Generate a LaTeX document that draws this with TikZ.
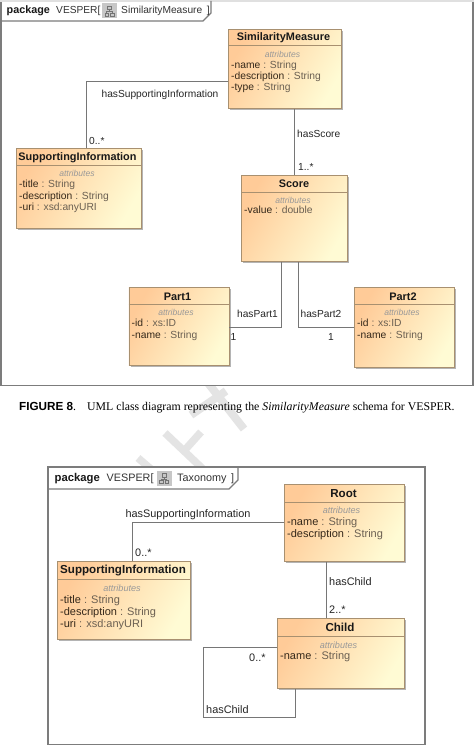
\documentclass[tikz,border=0pt]{standalone}
\usepackage{fontspec}
\setmainfont{Liberation Sans}
\newfontfamily\timesf{Liberation Serif}
\usetikzlibrary{shadows,calc}
\definecolor{fr}{HTML}{7C7C7C}
\definecolor{ln}{HTML}{767676}
\definecolor{hd}{HTML}{A89070}
\definecolor{org}{HTML}{FFCB98}
\definecolor{yel}{HTML}{FFFBD4}
\definecolor{nm}{HTML}{35281A}
\definecolor{ty}{HTML}{6B6052}
\definecolor{wm}{HTML}{E4E4E4}
\newcommand{\at}[2]{{\color{nm}#1} {\color{ty}: #2}}
\tikzset{
 classbox/.style={draw=hd,line width=.9pt,left color=org,right color=yel,shading angle=60,anchor=north west,inner sep=0pt,
   general shadow={shadow xshift=2pt,shadow yshift=-2pt,fill=black!45,opacity=.65}},
 ctitle/.style={font=\fontsize{10.9}{12}\selectfont\bfseries,text=black!90,inner sep=0pt},
 ctitleL/.style={font=\fontsize{11.6}{12}\selectfont\bfseries,text=black!90,inner sep=0pt},
 cattr/.style={font=\fontsize{8.6}{9}\selectfont\itshape,text=black!40,inner sep=0pt},
 cattrL/.style={font=\fontsize{9.1}{10}\selectfont\itshape,text=black!40,inner sep=0pt},
 cbody/.style={font=\fontsize{10.3}{11.4}\selectfont,align=left,anchor=north west,inner sep=0pt},
 cbodyL/.style={font=\fontsize{11}{12}\selectfont,align=left,anchor=north west,inner sep=0pt},
 lab/.style={font=\fontsize{10.2}{11}\selectfont,text=black!85,inner sep=0pt},
 labL/.style={font=\fontsize{10.9}{12}\selectfont,text=black!85,inner sep=0pt},
 conn/.style={draw=ln,line width=1pt},
 frame/.style={draw=fr,line width=1.1pt},
 head/.style={draw=hd,line width=.8pt},
 tabt/.style={font=\fontsize{10.2}{11}\selectfont,text=black!80,inner sep=0pt,anchor=base west},
 tabb/.style={font=\fontsize{10.8}{11}\selectfont\bfseries,text=black!90,inner sep=0pt,anchor=base west},
 tabtL/.style={font=\fontsize{10.8}{11}\selectfont,text=black!80,inner sep=0pt,anchor=base west},
 tabbL/.style={font=\fontsize{11.3}{12}\selectfont\bfseries,text=black!90,inner sep=0pt,anchor=base west},
}
\begin{document}
\begin{tikzpicture}[x=1pt,y=-1pt]
\useasboundingbox (0,0) rectangle (474,746);
\fill[white] (0,0) rectangle (474,746);
% watermark fragments
\begin{scope}
\clip (0,386.5) rectangle (474,466);
\draw[wm,line width=8pt] (208,383) -- (244,429);
\draw[wm,line width=8pt] (226,391) -- (191,415);
\draw[wm,line width=7.5pt] (165,433) -- (204,470);
\draw[wm,line width=7.5pt] (201,432) -- (184,451);
\draw[wm,line width=7.5pt] (138,458) -- (152,470);
\end{scope}
% top frame
\draw[frame] (1,-2) -- (1,385.5) -- (473,385.5) -- (473,-2);
\draw[frame,draw=black!12] (0,1) -- (474,1);
\draw[frame] (1,21) -- (203,21) -- (211,13) -- (211,1);
\node[tabb] (p1) at (6.5,13.5) {package};
\node[tabt] (p1b) at (56,13.5) {VESPER[};
\fill[black!22] (102,3.5) rectangle (117,18.5);
\draw[black!55,line width=.5pt] (107.5,6) rectangle (111.5,9.5) (105,13) rectangle (108.5,16) (110.5,13) rectangle (114,16) (109.5,9.5) -- (109.5,11.5) (106.7,13) -- (106.7,11.5) -- (112.2,11.5) -- (112.2,13);
\node[tabt] (p1c) at (121,13.5) {SimilarityMeasure\, ]};
% classes
\node[classbox,minimum width=113pt,minimum height=79pt] (sm) at (228,29) {};
\draw[head] (sm.west |- 0,45.5) -- (sm.east |- 0,45.5);
\node[ctitle] (smt) at (283.5,38) {SimilarityMeasure};
\node[cattr] (sma) at (282.5,54) {attributes};
\node[cbody] (smb) at (231,60.5) {\at{-name}{String}\\\at{-description}{String}\\\at{-type}{String}};

\node[classbox,minimum width=125pt,minimum height=80pt] (si) at (16,148) {};
\draw[head] (si.west |- 0,165) -- (si.east |- 0,165);
\node[ctitle] (sit) at (77.5,157.5) {SupportingInformation};
\node[cattr] (sia) at (77,173.5) {attributes};
\node[cbody] (sib) at (19,180) {\at{-title}{String}\\\at{-description}{String}\\\at{-uri}{xsd:anyURI}};

\node[classbox,minimum width=106pt,minimum height=86pt] (sc) at (241,175) {};
\draw[head] (sc.west |- 0,192) -- (sc.east |- 0,192);
\node[ctitle] (sct) at (294,184) {Score};
\node[cattr] (sca) at (293,200) {attributes};
\node[cbody] (scb) at (244,206) {\at{-value}{double}};

\node[classbox,minimum width=100pt,minimum height=78pt] (pa) at (128.5,287) {};
\draw[head] (pa.west |- 0,304) -- (pa.east |- 0,304);
\node[ctitle] (pat) at (177.5,296.5) {Part1};
\node[cattr] (paa) at (176,312.5) {attributes};
\node[cbody] (pab) at (131.5,319) {\at{-id}{xs:ID}\\\at{-name}{String}};

\node[classbox,minimum width=100pt,minimum height=80pt] (pb) at (354,287) {};
\draw[head] (pb.west |- 0,304) -- (pb.east |- 0,304);
\node[ctitle] (pbt) at (403,296.5) {Part2};
\node[cattr] (pba) at (402,312.5) {attributes};
\node[cbody] (pbb) at (357,319) {\at{-id}{xs:ID}\\\at{-name}{String}};
% connectors top
\coordinate (b1) at (86,82);
\draw[conn] (b1 -| sm.west) -- (b1) -- (b1 |- si.north);
\coordinate (b2) at (294,140);
\draw[conn] (b2 |- sm.south) -- (b2 |- sc.north);
\coordinate (b3) at (281,327);
\draw[conn] (b3 |- sc.south) -- (b3) -- (b3 -| pa.east);
\coordinate (b4) at (298,327);
\draw[conn] (b4 |- sc.south) -- (b4) -- (b4 -| pb.west);
\node[lab] (l1) at (160,95) {hasSupportingInformation};
\node[lab,anchor=west] (l2) at (89,140.5) {0..*};
\node[lab,anchor=west] (l3) at (297,134) {hasScore};
\node[lab,anchor=west] (l4) at (298,167) {1..*};
\node[lab] (l5) at (257.5,313.5) {hasPart1};
\node[lab] (l6) at (321,313.5) {hasPart2};
\node[lab] (l7) at (233.5,336.5) {1};
\node[lab] (l8) at (331,336.5) {1};
% caption
\node[anchor=base west,inner sep=0pt] (cap) at (19,410.5) {{\fontsize{11.7}{12}\selectfont\bfseries FIGURE 8}{\timesf\fontsize{11.8}{12}\selectfont.\hspace{11pt}UML class diagram representing the \textit{SimilarityMeasure} schema for VESPER.}};
% bottom frame
\draw[frame] (48,467) rectangle (425,744.5);
\draw[frame] (48,489) -- (229,489) -- (238,480) -- (238,467);
\node[tabbL] (p2) at (54.5,481) {package};
\node[tabtL] (p2b) at (106.5,481) {VESPER[};
\fill[black!22] (156.5,471) rectangle (172,486);
\draw[black!55,line width=.5pt] (162,473.5) rectangle (166,477) (159.5,480.5) rectangle (163,483.5) (165,480.5) rectangle (168.5,483.5) (164,477) -- (164,479) (161.2,480.5) -- (161.2,479) -- (166.7,479) -- (166.7,480.5);
\node[tabtL] (p2c) at (177,481) {Taxonomy\, ]};

\node[classbox,minimum width=120pt,minimum height=77pt] (ro) at (284,484) {};
\draw[head] (ro.west |- 0,502) -- (ro.east |- 0,502);
\node[ctitleL] (rot) at (343.5,493.5) {Root};
\node[cattrL] (roa) at (341.5,510.5) {attributes};
\node[cbodyL] (rob) at (287,517) {\at{-name}{String}\\\at{-description}{String}};

\node[classbox,minimum width=133pt,minimum height=78pt] (sj) at (57,561) {};
\draw[head] (sj.west |- 0,579) -- (sj.east |- 0,579);
\node[ctitleL] (sjt) at (123,571) {SupportingInformation};
\node[cattrL] (sja) at (122,588) {attributes};
\node[cbodyL] (sjb) at (60,595) {\at{-title}{String}\\\at{-description}{String}\\\at{-uri}{xsd:anyURI}};

\node[classbox,minimum width=127pt,minimum height=70pt] (ch) at (277,618) {};
\draw[head] (ch.west |- 0,636) -- (ch.east |- 0,636);
\node[ctitleL] (cht) at (340,627.5) {Child};
\node[cattrL] (cha) at (338.5,645) {attributes};
\node[cbodyL] (chb) at (280,651.5) {\at{-name}{String}};

\coordinate (c1) at (132,522.5);
\draw[conn] (c1 -| ro.west) -- (c1) -- (c1 |- sj.north);
\coordinate (c2) at (326,590);
\draw[conn] (c2 |- ro.south) -- (c2 |- ch.north);
\coordinate (c3) at (203,647);
\coordinate (c4) at (295,717);
\draw[conn] (c3 -| ch.west) -- (c3) -- (c3 |- c4) -- (c4) -- (c4 |- ch.south);
\node[labL] (m1) at (188,515) {hasSupportingInformation};
\node[labL,anchor=west] (m2) at (135,553) {0..*};
\node[labL,anchor=west] (m3) at (329,581.5) {hasChild};
\node[labL,anchor=west] (m4) at (329,610) {2..*};
\node[labL,anchor=west] (m5) at (249,657.5) {0..*};
\node[labL,anchor=west] (m6) at (206,710) {hasChild};
\end{tikzpicture}
\end{document}
